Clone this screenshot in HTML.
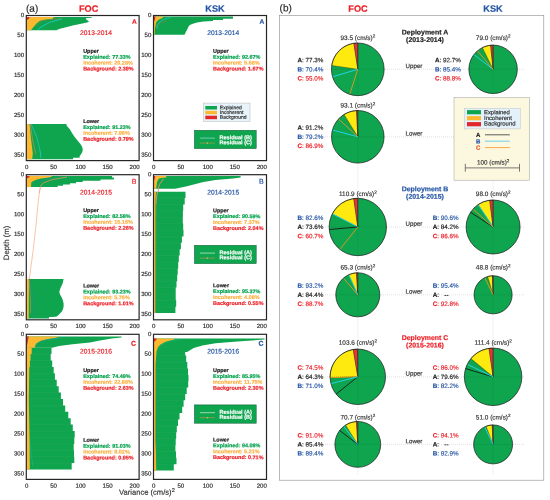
<!DOCTYPE html>
<html lang="en"><head><meta charset="utf-8"><title>Variance figure</title>
<style>
html,body{margin:0;padding:0;background:#fff;}
body{width:550px;height:500px;overflow:hidden;}
svg{display:block;font-family:"Liberation Sans",Arial,sans-serif;text-rendering:geometricPrecision;}
</style></head><body>
<svg width="550" height="500" viewBox="0 0 550 500">
<rect width="550" height="500" fill="#ffffff"/>
<polygon points="26.7,17.0 91.8,17.0 91.8,17.7 85.9,17.9 86.5,19.8 88.6,20.9 88.6,21.9 86.0,22.8 80.0,24.1 72.7,25.5 66.0,27.3 59.1,29.0 56.4,30.3 26.7,30.3" fill="#0fa44e" />
<polygon points="26.7,17.0 56.0,17.0 53.0,17.6 53.0,18.8 45.0,19.6 40.0,20.7 36.5,23.6 33.5,27.0 31.3,29.8 31.2,30.3 26.7,30.3" fill="#fcb82e" />
<polygon points="26.7,17.0 29.6,17.0 29.0,18.4 27.4,19.8 26.7,20.2 26.7,20.2" fill="#e3262a" />
<polyline points="61.8,18.9 49.5,22.4 43.0,25.8 37.8,29.5" fill="none" stroke="#22d3ea" stroke-width="0.7" />
<polyline points="62.0,18.3 54.0,19.2 47.0,19.9 42.0,20.8 38.5,23.2 35.5,26.5" fill="none" stroke="#e8703c" stroke-width="0.5" stroke-dasharray="1.2 0.6"/>
<polygon points="26.7,124.0 66.5,124.0 66.5,125.5 70.0,129.5 72.0,133.0 74.5,136.8 77.5,140.5 80.4,144.0 82.0,146.5 82.8,149.2 82.3,152.0 81.0,154.3 79.6,156.3 79.6,157.7 73.0,157.7 73.0,159.2 26.7,159.2" fill="#0fa44e" />
<polygon points="26.7,124.0 29.6,124.0 30.6,135.0 31.8,145.0 32.8,153.6 32.2,159.2 26.7,159.2" fill="#fcb82e" />
<polyline points="31.1,124.0 36.6,136.8 40.4,152.0 40.8,158.0" fill="none" stroke="#22d3ea" stroke-width="0.6" />
<polyline points="30.3,124.0 32.8,141.0 35.8,153.6" fill="none" stroke="#f08a4b" stroke-width="0.6" />
<polygon points="26.7,176.0 112.0,176.0 112.0,177.4 113.9,177.4 113.9,179.6 100.5,179.6 100.5,180.8 82.7,180.8 82.7,182.0 76.0,182.0 76.0,183.2 70.0,183.2 70.0,184.4 63.0,184.4 63.0,185.8 57.6,185.8 57.6,187.0 26.7,187.0" fill="#0fa44e" />
<polygon points="26.7,176.0 51.6,176.0 51.6,177.3 45.0,178.0 40.7,178.5 37.0,179.4 34.9,180.3 32.5,181.6 31.3,182.6 31.0,187.0 26.7,187.0" fill="#fcb82e" />
<polygon points="26.7,176.0 29.6,176.0 29.2,177.2 27.4,178.2 26.7,178.4 26.7,178.4" fill="#e3262a" />
<polyline points="52.0,177.3 45.0,179.0 38.0,181.6 35.0,184.2" fill="none" stroke="#1a8f8a" stroke-width="0.8" />
<polyline points="67.0,177.0 58.9,178.5 53.1,179.4 48.0,181.1 43.6,182.9 41.1,185.1 40.4,187.3 39.3,193.0" fill="none" stroke="#e8916c" stroke-width="0.8" />
<polyline points="39.3,193.0 38.4,200.0 36.0,225.0 33.2,250.0 31.2,265.0 29.4,278.0 29.9,285.0 30.6,300.0 30.6,313.0" fill="none" stroke="#f08a4b" stroke-width="0.5" />
<polygon points="26.7,279.0 63.6,279.0 63.0,282.0 62.2,284.5 60.5,288.0 59.3,291.8 60.0,294.5 61.5,296.9 62.8,300.0 63.6,303.5 63.6,306.5 63.0,309.3 61.8,311.5 60.0,313.6 58.5,315.0 56.4,316.8 49.0,317.1 49.0,318.4 26.7,318.4" fill="#0fa44e" />
<polygon points="26.7,279.0 28.9,279.0 28.7,318.4 26.7,318.4" fill="#fcb82e" />
<polyline points="30.2,279.0 32.0,292.0 33.8,305.0 35.3,318.0" fill="none" stroke="#2b8c9c" stroke-width="0.5" />
<polyline points="28.9,278.0 29.6,285.0 30.4,300.0 30.6,313.0" fill="none" stroke="#f08a4b" stroke-width="0.5" />
<polygon points="26.7,336.5 121.5,336.5 121.5,337.6 111.7,338.6 100.0,340.5 90.0,342.5 72.5,344.2 59.0,346.0 52.2,347.7 26.7,347.7" fill="#0fa44e" />
<polygon points="26.7,347.7 51.5,347.7 51.5,354.1 50.7,354.1 50.7,360.5 52.2,360.5 52.2,366.9 53.7,366.9 53.7,373.3 54.9,373.3 54.9,379.8 56.7,379.8 56.7,386.2 58.7,386.2 58.7,392.6 60.9,392.6 60.9,399.0 63.0,399.0 63.0,405.4 65.2,405.4 65.2,411.8 68.3,411.8 68.3,418.2 70.7,418.2 70.7,424.6 72.8,424.6 72.8,431.0 74.7,431.0 74.7,437.4 74.3,437.4 74.3,443.9 73.7,443.9 73.7,450.3 74.0,450.3 74.0,456.7 74.3,456.7 74.3,463.1 71.7,463.1 71.7,469.5 26.7,469.5" fill="#0fa44e" />
<line x1="28.7" x2="50.7" y1="354.11" y2="354.11" stroke="#36ae66" stroke-width="0.3"/>
<line x1="28.7" x2="50.7" y1="360.52" y2="360.52" stroke="#36ae66" stroke-width="0.3"/>
<line x1="28.7" x2="52.2" y1="366.93" y2="366.93" stroke="#36ae66" stroke-width="0.3"/>
<line x1="28.7" x2="53.7" y1="373.34" y2="373.34" stroke="#36ae66" stroke-width="0.3"/>
<line x1="28.7" x2="54.9" y1="379.75" y2="379.75" stroke="#36ae66" stroke-width="0.3"/>
<line x1="28.7" x2="56.7" y1="386.16" y2="386.16" stroke="#36ae66" stroke-width="0.3"/>
<line x1="28.7" x2="58.7" y1="392.57" y2="392.57" stroke="#36ae66" stroke-width="0.3"/>
<line x1="28.7" x2="60.9" y1="398.98" y2="398.98" stroke="#36ae66" stroke-width="0.3"/>
<line x1="28.7" x2="63.0" y1="405.39" y2="405.39" stroke="#36ae66" stroke-width="0.3"/>
<line x1="28.7" x2="65.2" y1="411.80" y2="411.80" stroke="#36ae66" stroke-width="0.3"/>
<line x1="28.7" x2="68.3" y1="418.21" y2="418.21" stroke="#36ae66" stroke-width="0.3"/>
<line x1="28.7" x2="70.7" y1="424.62" y2="424.62" stroke="#36ae66" stroke-width="0.3"/>
<line x1="28.7" x2="72.8" y1="431.03" y2="431.03" stroke="#36ae66" stroke-width="0.3"/>
<line x1="28.7" x2="74.3" y1="437.44" y2="437.44" stroke="#36ae66" stroke-width="0.3"/>
<line x1="28.7" x2="73.7" y1="443.85" y2="443.85" stroke="#36ae66" stroke-width="0.3"/>
<line x1="28.7" x2="73.7" y1="450.26" y2="450.26" stroke="#36ae66" stroke-width="0.3"/>
<line x1="28.7" x2="74.0" y1="456.67" y2="456.67" stroke="#36ae66" stroke-width="0.3"/>
<line x1="28.7" x2="71.7" y1="463.08" y2="463.08" stroke="#36ae66" stroke-width="0.3"/>
<polygon points="26.7,336.5 58.0,336.5 58.0,337.2 54.0,338.3 47.0,339.2 40.4,341.0 36.0,343.7 34.6,347.7 26.7,347.7" fill="#fcb82e" />
<polygon points="26.7,347.7 31.7,347.7 31.7,354.0 30.5,354.2 30.5,360.5 29.9,360.6 29.9,367.0 29.3,367.0 28.8,400.0 29.6,440.0 29.8,469.5 26.7,469.5" fill="#fcb82e" />
<polygon points="26.7,336.5 28.8,336.5 28.0,340.0 27.4,344.0 26.7,346.0 26.7,346.0" fill="#e3262a" />
<polyline points="62.0,337.6 54.0,338.6 47.0,339.6 40.8,341.3 36.6,343.9 35.2,347.5" fill="none" stroke="#1fa58f" stroke-width="0.8" />
<polyline points="29.7,440.5 31.0,452.0 32.7,466.0" fill="none" stroke="#22d3ea" stroke-width="0.4" stroke-dasharray="1.2 0.8"/>
<polygon points="153.9,16.6 233.0,16.6 233.0,18.7 223.0,18.7 223.0,19.9 213.0,19.9 213.0,21.1 203.4,21.4 197.0,22.5 193.6,23.6 190.4,24.8 189.0,25.8 184.5,34.7 153.9,34.7" fill="#0fa44e" />
<polygon points="153.9,16.6 163.0,16.6 163.0,17.8 160.5,18.8 158.3,20.0 156.8,21.6 156.0,23.0 155.0,28.7 154.7,34.7 153.9,34.7" fill="#fcb82e" />
<polygon points="153.9,16.6 155.6,16.6 154.6,20.4 153.9,21.4 153.9,21.4" fill="#e3262a" />
<polyline points="170.6,17.5 166.0,18.7 162.0,20.4 158.3,23.6 156.9,26.5 157.3,28.0 158.3,29.0" fill="none" stroke="#22d3ea" stroke-width="0.6" />
<polyline points="166.6,21.1 160.5,23.0 158.3,25.0 157.2,27.6" fill="none" stroke="#e8703c" stroke-width="0.6" stroke-dasharray="1 0.8"/>
<polygon points="153.9,176.0 240.6,176.0 240.6,177.6 233.0,178.5 215.5,180.0 203.4,182.0 194.7,184.2 186.0,186.4 175.0,188.7 153.9,188.7" fill="#0fa44e" />
<polygon points="153.9,191.7 185.5,191.7 185.5,198.1 184.7,198.1 184.7,204.5 183.2,204.5 183.2,210.9 182.9,210.9 182.9,217.3 182.8,217.3 182.8,223.6 183.2,223.6 183.2,230.0 183.5,230.0 183.5,236.4 181.9,236.4 181.9,242.8 180.9,242.8 180.9,249.2 179.7,249.2 179.7,255.6 178.8,255.6 178.8,262.0 178.2,262.0 178.2,268.4 177.7,268.4 177.7,274.8 177.2,274.8 177.2,281.2 176.5,281.2 176.5,287.5 175.7,287.5 175.7,293.9 175.7,293.9 175.7,300.3 176.2,300.3 176.2,306.7 175.4,306.7 175.4,313.1 153.9,313.1" fill="#0fa44e" />
<line x1="155.9" x2="184.7" y1="198.09" y2="198.09" stroke="#36ae66" stroke-width="0.3"/>
<line x1="155.9" x2="183.2" y1="204.48" y2="204.48" stroke="#36ae66" stroke-width="0.3"/>
<line x1="155.9" x2="182.9" y1="210.87" y2="210.87" stroke="#36ae66" stroke-width="0.3"/>
<line x1="155.9" x2="182.8" y1="217.26" y2="217.26" stroke="#36ae66" stroke-width="0.3"/>
<line x1="155.9" x2="182.8" y1="223.65" y2="223.65" stroke="#36ae66" stroke-width="0.3"/>
<line x1="155.9" x2="183.2" y1="230.04" y2="230.04" stroke="#36ae66" stroke-width="0.3"/>
<line x1="155.9" x2="181.9" y1="236.43" y2="236.43" stroke="#36ae66" stroke-width="0.3"/>
<line x1="155.9" x2="180.9" y1="242.82" y2="242.82" stroke="#36ae66" stroke-width="0.3"/>
<line x1="155.9" x2="179.7" y1="249.21" y2="249.21" stroke="#36ae66" stroke-width="0.3"/>
<line x1="155.9" x2="178.8" y1="255.60" y2="255.60" stroke="#36ae66" stroke-width="0.3"/>
<line x1="155.9" x2="178.2" y1="261.99" y2="261.99" stroke="#36ae66" stroke-width="0.3"/>
<line x1="155.9" x2="177.7" y1="268.38" y2="268.38" stroke="#36ae66" stroke-width="0.3"/>
<line x1="155.9" x2="177.2" y1="274.77" y2="274.77" stroke="#36ae66" stroke-width="0.3"/>
<line x1="155.9" x2="176.5" y1="281.16" y2="281.16" stroke="#36ae66" stroke-width="0.3"/>
<line x1="155.9" x2="175.7" y1="287.55" y2="287.55" stroke="#36ae66" stroke-width="0.3"/>
<line x1="155.9" x2="175.7" y1="293.94" y2="293.94" stroke="#36ae66" stroke-width="0.3"/>
<line x1="155.9" x2="175.7" y1="300.33" y2="300.33" stroke="#36ae66" stroke-width="0.3"/>
<line x1="155.9" x2="175.4" y1="306.72" y2="306.72" stroke="#36ae66" stroke-width="0.3"/>
<polygon points="153.9,176.0 166.3,176.0 166.3,177.4 161.0,178.0 159.0,178.6 157.2,181.5 156.1,188.7 153.9,188.7" fill="#fcb82e" />
<polygon points="153.9,191.7 156.0,191.7 155.4,200.0 155.2,313.1 153.9,313.1" fill="#fcb82e" />
<polygon points="153.9,176.0 155.4,176.0 154.5,179.5 153.9,181.0 153.9,181.0" fill="#e3262a" />
<polyline points="163.4,178.9 162.6,180.0 160.1,183.6 158.4,187.6 158.8,189.0 157.5,193.0 156.5,197.0 156.0,204.0" fill="none" stroke="#e8916c" stroke-width="0.9" />
<polyline points="156.2,204.0 155.6,313.0" fill="none" stroke="#f08a4b" stroke-width="0.4" stroke-dasharray="1 0.8"/>
<polygon points="153.9,338.5 264.6,338.5 264.6,339.6 248.3,340.7 237.3,341.5 215.5,343.3 202.4,345.5 193.7,348.1 187.1,352.0 153.9,352.0" fill="#0fa44e" />
<polygon points="153.9,349.2 185.2,349.2 185.2,355.6 186.2,355.6 186.2,362.0 187.3,362.0 187.3,368.4 188.0,368.4 188.0,374.8 188.5,374.8 188.5,381.1 188.2,381.1 188.2,387.5 186.7,387.5 186.7,393.9 185.2,393.9 185.2,400.3 183.6,400.3 183.6,406.7 182.2,406.7 182.2,413.1 179.5,413.1 179.5,419.5 178.0,419.5 178.0,425.9 176.8,425.9 176.8,432.3 176.2,432.3 176.2,438.7 175.7,438.7 175.7,445.0 175.4,445.0 175.4,451.4 176.0,451.4 176.0,457.8 176.5,457.8 176.5,464.2 173.8,464.2 173.8,470.6 153.9,470.6" fill="#0fa44e" />
<line x1="155.9" x2="185.2" y1="355.59" y2="355.59" stroke="#36ae66" stroke-width="0.3"/>
<line x1="155.9" x2="186.2" y1="361.98" y2="361.98" stroke="#36ae66" stroke-width="0.3"/>
<line x1="155.9" x2="187.3" y1="368.37" y2="368.37" stroke="#36ae66" stroke-width="0.3"/>
<line x1="155.9" x2="188.0" y1="374.76" y2="374.76" stroke="#36ae66" stroke-width="0.3"/>
<line x1="155.9" x2="188.2" y1="381.15" y2="381.15" stroke="#36ae66" stroke-width="0.3"/>
<line x1="155.9" x2="186.7" y1="387.54" y2="387.54" stroke="#36ae66" stroke-width="0.3"/>
<line x1="155.9" x2="185.2" y1="393.93" y2="393.93" stroke="#36ae66" stroke-width="0.3"/>
<line x1="155.9" x2="183.6" y1="400.32" y2="400.32" stroke="#36ae66" stroke-width="0.3"/>
<line x1="155.9" x2="182.2" y1="406.71" y2="406.71" stroke="#36ae66" stroke-width="0.3"/>
<line x1="155.9" x2="179.5" y1="413.10" y2="413.10" stroke="#36ae66" stroke-width="0.3"/>
<line x1="155.9" x2="178.0" y1="419.49" y2="419.49" stroke="#36ae66" stroke-width="0.3"/>
<line x1="155.9" x2="176.8" y1="425.88" y2="425.88" stroke="#36ae66" stroke-width="0.3"/>
<line x1="155.9" x2="176.2" y1="432.27" y2="432.27" stroke="#36ae66" stroke-width="0.3"/>
<line x1="155.9" x2="175.7" y1="438.66" y2="438.66" stroke="#36ae66" stroke-width="0.3"/>
<line x1="155.9" x2="175.4" y1="445.05" y2="445.05" stroke="#36ae66" stroke-width="0.3"/>
<line x1="155.9" x2="175.4" y1="451.44" y2="451.44" stroke="#36ae66" stroke-width="0.3"/>
<line x1="155.9" x2="176.0" y1="457.83" y2="457.83" stroke="#36ae66" stroke-width="0.3"/>
<line x1="155.9" x2="173.8" y1="464.22" y2="464.22" stroke="#36ae66" stroke-width="0.3"/>
<polygon points="153.9,338.5 174.3,338.5 174.3,339.6 170.0,340.4 165.5,341.8 160.5,344.4 157.9,347.3 156.5,351.6 156.1,356.7 155.5,365.0 155.3,440.0 156.0,455.0 156.2,470.6 153.9,470.6" fill="#fcb82e" />
<polygon points="153.9,338.5 156.8,338.5 156.2,340.0 154.8,341.2 153.9,342.0 153.9,342.0" fill="#e3262a" />
<polyline points="180.0,339.6 172.0,340.6 166.5,342.2 162.0,344.6 159.7,347.6 158.2,350.5" fill="none" stroke="#22d3ea" stroke-width="0.4" stroke-dasharray="1 0.8"/>
<polyline points="155.6,360.0 155.5,468.0" fill="none" stroke="#f08a4b" stroke-width="0.4" stroke-dasharray="1 0.8"/>
<rect x="26.3" y="15.5" width="112.8" height="145.1" fill="none" stroke="#262626" stroke-width="1.2"/>
<text x="24.1" y="17.1" font-size="6.1" fill="#303030" text-anchor="end" font-weight="normal"  stroke="#303030" stroke-width="0.18" transform="rotate(0.05 24.1 17.1)">0</text>
<text x="24.1" y="37.1" font-size="6.1" fill="#303030" text-anchor="end" font-weight="normal"  stroke="#303030" stroke-width="0.18" transform="rotate(0.05 24.1 37.1)">50</text>
<text x="24.1" y="57.0" font-size="6.1" fill="#303030" text-anchor="end" font-weight="normal"  stroke="#303030" stroke-width="0.18" transform="rotate(0.05 24.1 57.0)">100</text>
<text x="24.1" y="77.0" font-size="6.1" fill="#303030" text-anchor="end" font-weight="normal"  stroke="#303030" stroke-width="0.18" transform="rotate(0.05 24.1 77.0)">150</text>
<text x="24.1" y="96.9" font-size="6.1" fill="#303030" text-anchor="end" font-weight="normal"  stroke="#303030" stroke-width="0.18" transform="rotate(0.05 24.1 96.9)">200</text>
<text x="24.1" y="116.9" font-size="6.1" fill="#303030" text-anchor="end" font-weight="normal"  stroke="#303030" stroke-width="0.18" transform="rotate(0.05 24.1 116.9)">250</text>
<text x="24.1" y="136.8" font-size="6.1" fill="#303030" text-anchor="end" font-weight="normal"  stroke="#303030" stroke-width="0.18" transform="rotate(0.05 24.1 136.8)">300</text>
<text x="24.1" y="156.8" font-size="6.1" fill="#303030" text-anchor="end" font-weight="normal"  stroke="#303030" stroke-width="0.18" transform="rotate(0.05 24.1 156.8)">350</text>
<text x="26.6" y="168.9" font-size="6.1" fill="#303030" text-anchor="middle" font-weight="normal"  stroke="#303030" stroke-width="0.18" transform="rotate(0.05 26.6 168.9)">0</text>
<text x="53.6" y="168.9" font-size="6.1" fill="#303030" text-anchor="middle" font-weight="normal"  stroke="#303030" stroke-width="0.18" transform="rotate(0.05 53.6 168.9)">50</text>
<text x="80.6" y="168.9" font-size="6.1" fill="#303030" text-anchor="middle" font-weight="normal"  stroke="#303030" stroke-width="0.18" transform="rotate(0.05 80.6 168.9)">100</text>
<text x="107.6" y="168.9" font-size="6.1" fill="#303030" text-anchor="middle" font-weight="normal"  stroke="#303030" stroke-width="0.18" transform="rotate(0.05 107.6 168.9)">150</text>
<text x="134.6" y="168.9" font-size="6.1" fill="#303030" text-anchor="middle" font-weight="normal"  stroke="#303030" stroke-width="0.18" transform="rotate(0.05 134.6 168.9)">200</text>
<text x="134.5" y="23.8" font-size="6.6" fill="#ed1c24" text-anchor="middle" font-weight="bold"  stroke="#ed1c24" stroke-width="0.18" transform="rotate(0.05 134.5 23.8)">A</text>
<text x="96.0" y="34.9" font-size="6.7" fill="#ed1c24" text-anchor="middle" font-weight="normal"  stroke="#ed1c24" stroke-width="0.18" transform="rotate(0.05 96.0 34.9)">2013-2014</text>
<text x="83.2" y="52.8" font-size="5.45" fill="#1a1a1a" text-anchor="start" font-weight="bold"  stroke="#1a1a1a" stroke-width="0.18" transform="rotate(0.05 83.2 52.8)">Upper</text>
<text x="83.2" y="58.7" font-size="5.45" fill="#00a14b" text-anchor="start" font-weight="bold"  stroke="#00a14b" stroke-width="0.18" transform="rotate(0.05 83.2 58.7)">Explained: 77.33%</text>
<text x="83.2" y="64.6" font-size="5.45" fill="#fbb040" text-anchor="start" font-weight="bold"  stroke="#fbb040" stroke-width="0.18" transform="rotate(0.05 83.2 64.6)">Incoherent: 20.28%</text>
<text x="83.2" y="70.5" font-size="5.45" fill="#ed1c24" text-anchor="start" font-weight="bold"  stroke="#ed1c24" stroke-width="0.18" transform="rotate(0.05 83.2 70.5)">Background: 2.39%</text>
<text x="83.2" y="123.0" font-size="5.45" fill="#1a1a1a" text-anchor="start" font-weight="bold"  stroke="#1a1a1a" stroke-width="0.18" transform="rotate(0.05 83.2 123.0)">Lower</text>
<text x="83.2" y="128.9" font-size="5.45" fill="#00a14b" text-anchor="start" font-weight="bold"  stroke="#00a14b" stroke-width="0.18" transform="rotate(0.05 83.2 128.9)">Explained: 91.23%</text>
<text x="83.2" y="134.8" font-size="5.45" fill="#fbb040" text-anchor="start" font-weight="bold"  stroke="#fbb040" stroke-width="0.18" transform="rotate(0.05 83.2 134.8)">Incoherent: 7.98%</text>
<text x="83.2" y="140.7" font-size="5.45" fill="#ed1c24" text-anchor="start" font-weight="bold"  stroke="#ed1c24" stroke-width="0.18" transform="rotate(0.05 83.2 140.7)">Background: 0.79%</text>
<rect x="26.3" y="174.7" width="112.8" height="145.1" fill="none" stroke="#262626" stroke-width="1.2"/>
<text x="24.1" y="176.3" font-size="6.1" fill="#303030" text-anchor="end" font-weight="normal"  stroke="#303030" stroke-width="0.18" transform="rotate(0.05 24.1 176.3)">0</text>
<text x="24.1" y="196.2" font-size="6.1" fill="#303030" text-anchor="end" font-weight="normal"  stroke="#303030" stroke-width="0.18" transform="rotate(0.05 24.1 196.2)">50</text>
<text x="24.1" y="216.2" font-size="6.1" fill="#303030" text-anchor="end" font-weight="normal"  stroke="#303030" stroke-width="0.18" transform="rotate(0.05 24.1 216.2)">100</text>
<text x="24.1" y="236.1" font-size="6.1" fill="#303030" text-anchor="end" font-weight="normal"  stroke="#303030" stroke-width="0.18" transform="rotate(0.05 24.1 236.1)">150</text>
<text x="24.1" y="256.1" font-size="6.1" fill="#303030" text-anchor="end" font-weight="normal"  stroke="#303030" stroke-width="0.18" transform="rotate(0.05 24.1 256.1)">200</text>
<text x="24.1" y="276.0" font-size="6.1" fill="#303030" text-anchor="end" font-weight="normal"  stroke="#303030" stroke-width="0.18" transform="rotate(0.05 24.1 276.0)">250</text>
<text x="24.1" y="296.0" font-size="6.1" fill="#303030" text-anchor="end" font-weight="normal"  stroke="#303030" stroke-width="0.18" transform="rotate(0.05 24.1 296.0)">300</text>
<text x="24.1" y="315.9" font-size="6.1" fill="#303030" text-anchor="end" font-weight="normal"  stroke="#303030" stroke-width="0.18" transform="rotate(0.05 24.1 315.9)">350</text>
<text x="26.6" y="328.1" font-size="6.1" fill="#303030" text-anchor="middle" font-weight="normal"  stroke="#303030" stroke-width="0.18" transform="rotate(0.05 26.6 328.1)">0</text>
<text x="53.6" y="328.1" font-size="6.1" fill="#303030" text-anchor="middle" font-weight="normal"  stroke="#303030" stroke-width="0.18" transform="rotate(0.05 53.6 328.1)">50</text>
<text x="80.6" y="328.1" font-size="6.1" fill="#303030" text-anchor="middle" font-weight="normal"  stroke="#303030" stroke-width="0.18" transform="rotate(0.05 80.6 328.1)">100</text>
<text x="107.6" y="328.1" font-size="6.1" fill="#303030" text-anchor="middle" font-weight="normal"  stroke="#303030" stroke-width="0.18" transform="rotate(0.05 107.6 328.1)">150</text>
<text x="134.6" y="328.1" font-size="6.1" fill="#303030" text-anchor="middle" font-weight="normal"  stroke="#303030" stroke-width="0.18" transform="rotate(0.05 134.6 328.1)">200</text>
<text x="134.0" y="183.8" font-size="7" fill="#ed1c24" text-anchor="middle" font-weight="normal"  stroke="#ed1c24" stroke-width="0.18" transform="rotate(0.05 134.0 183.8)">B</text>
<text x="96.0" y="194.6" font-size="6.7" fill="#ed1c24" text-anchor="middle" font-weight="normal"  stroke="#ed1c24" stroke-width="0.18" transform="rotate(0.05 96.0 194.6)">2014-2015</text>
<text x="83.2" y="212.0" font-size="5.45" fill="#1a1a1a" text-anchor="start" font-weight="bold"  stroke="#1a1a1a" stroke-width="0.18" transform="rotate(0.05 83.2 212.0)">Upper</text>
<text x="83.2" y="217.9" font-size="5.45" fill="#00a14b" text-anchor="start" font-weight="bold"  stroke="#00a14b" stroke-width="0.18" transform="rotate(0.05 83.2 217.9)">Explained: 82.58%</text>
<text x="83.2" y="223.8" font-size="5.45" fill="#fbb040" text-anchor="start" font-weight="bold"  stroke="#fbb040" stroke-width="0.18" transform="rotate(0.05 83.2 223.8)">Incoherent: 15.16%</text>
<text x="83.2" y="229.7" font-size="5.45" fill="#ed1c24" text-anchor="start" font-weight="bold"  stroke="#ed1c24" stroke-width="0.18" transform="rotate(0.05 83.2 229.7)">Background: 2.26%</text>
<text x="83.2" y="287.5" font-size="5.45" fill="#1a1a1a" text-anchor="start" font-weight="bold"  stroke="#1a1a1a" stroke-width="0.18" transform="rotate(0.05 83.2 287.5)">Lower</text>
<text x="83.2" y="293.4" font-size="5.45" fill="#00a14b" text-anchor="start" font-weight="bold"  stroke="#00a14b" stroke-width="0.18" transform="rotate(0.05 83.2 293.4)">Explained: 93.23%</text>
<text x="83.2" y="299.3" font-size="5.45" fill="#fbb040" text-anchor="start" font-weight="bold"  stroke="#fbb040" stroke-width="0.18" transform="rotate(0.05 83.2 299.3)">Incoherent: 5.76%</text>
<text x="83.2" y="305.2" font-size="5.45" fill="#ed1c24" text-anchor="start" font-weight="bold"  stroke="#ed1c24" stroke-width="0.18" transform="rotate(0.05 83.2 305.2)">Background: 1.01%</text>
<rect x="26.3" y="334.3" width="112.8" height="145.1" fill="none" stroke="#262626" stroke-width="1.2"/>
<text x="24.1" y="335.9" font-size="6.1" fill="#303030" text-anchor="end" font-weight="normal"  stroke="#303030" stroke-width="0.18" transform="rotate(0.05 24.1 335.9)">0</text>
<text x="24.1" y="355.8" font-size="6.1" fill="#303030" text-anchor="end" font-weight="normal"  stroke="#303030" stroke-width="0.18" transform="rotate(0.05 24.1 355.8)">50</text>
<text x="24.1" y="375.8" font-size="6.1" fill="#303030" text-anchor="end" font-weight="normal"  stroke="#303030" stroke-width="0.18" transform="rotate(0.05 24.1 375.8)">100</text>
<text x="24.1" y="395.8" font-size="6.1" fill="#303030" text-anchor="end" font-weight="normal"  stroke="#303030" stroke-width="0.18" transform="rotate(0.05 24.1 395.8)">150</text>
<text x="24.1" y="415.7" font-size="6.1" fill="#303030" text-anchor="end" font-weight="normal"  stroke="#303030" stroke-width="0.18" transform="rotate(0.05 24.1 415.7)">200</text>
<text x="24.1" y="435.6" font-size="6.1" fill="#303030" text-anchor="end" font-weight="normal"  stroke="#303030" stroke-width="0.18" transform="rotate(0.05 24.1 435.6)">250</text>
<text x="24.1" y="455.6" font-size="6.1" fill="#303030" text-anchor="end" font-weight="normal"  stroke="#303030" stroke-width="0.18" transform="rotate(0.05 24.1 455.6)">300</text>
<text x="24.1" y="475.5" font-size="6.1" fill="#303030" text-anchor="end" font-weight="normal"  stroke="#303030" stroke-width="0.18" transform="rotate(0.05 24.1 475.5)">350</text>
<text x="26.6" y="487.7" font-size="6.1" fill="#303030" text-anchor="middle" font-weight="normal"  stroke="#303030" stroke-width="0.18" transform="rotate(0.05 26.6 487.7)">0</text>
<text x="53.6" y="487.7" font-size="6.1" fill="#303030" text-anchor="middle" font-weight="normal"  stroke="#303030" stroke-width="0.18" transform="rotate(0.05 53.6 487.7)">50</text>
<text x="80.6" y="487.7" font-size="6.1" fill="#303030" text-anchor="middle" font-weight="normal"  stroke="#303030" stroke-width="0.18" transform="rotate(0.05 80.6 487.7)">100</text>
<text x="107.6" y="487.7" font-size="6.1" fill="#303030" text-anchor="middle" font-weight="normal"  stroke="#303030" stroke-width="0.18" transform="rotate(0.05 107.6 487.7)">150</text>
<text x="134.6" y="487.7" font-size="6.1" fill="#303030" text-anchor="middle" font-weight="normal"  stroke="#303030" stroke-width="0.18" transform="rotate(0.05 134.6 487.7)">200</text>
<text x="133.6" y="345.7" font-size="7" fill="#ed1c24" text-anchor="middle" font-weight="bold"  stroke="#ed1c24" stroke-width="0.18" transform="rotate(0.05 133.6 345.7)">C</text>
<text x="96.0" y="353.4" font-size="6.7" fill="#ed1c24" text-anchor="middle" font-weight="normal"  stroke="#ed1c24" stroke-width="0.18" transform="rotate(0.05 96.0 353.4)">2015-2016</text>
<text x="83.2" y="372.0" font-size="5.45" fill="#1a1a1a" text-anchor="start" font-weight="bold"  stroke="#1a1a1a" stroke-width="0.18" transform="rotate(0.05 83.2 372.0)">Upper</text>
<text x="83.2" y="377.9" font-size="5.45" fill="#00a14b" text-anchor="start" font-weight="bold"  stroke="#00a14b" stroke-width="0.18" transform="rotate(0.05 83.2 377.9)">Explained: 74.49%</text>
<text x="83.2" y="383.8" font-size="5.45" fill="#fbb040" text-anchor="start" font-weight="bold"  stroke="#fbb040" stroke-width="0.18" transform="rotate(0.05 83.2 383.8)">Incoherent: 22.88%</text>
<text x="83.2" y="389.7" font-size="5.45" fill="#ed1c24" text-anchor="start" font-weight="bold"  stroke="#ed1c24" stroke-width="0.18" transform="rotate(0.05 83.2 389.7)">Background: 2.63%</text>
<text x="83.2" y="441.8" font-size="5.45" fill="#1a1a1a" text-anchor="start" font-weight="bold"  stroke="#1a1a1a" stroke-width="0.18" transform="rotate(0.05 83.2 441.8)">Lower</text>
<text x="83.2" y="447.7" font-size="5.45" fill="#00a14b" text-anchor="start" font-weight="bold"  stroke="#00a14b" stroke-width="0.18" transform="rotate(0.05 83.2 447.7)">Explained: 91.03%</text>
<text x="83.2" y="453.6" font-size="5.45" fill="#fbb040" text-anchor="start" font-weight="bold"  stroke="#fbb040" stroke-width="0.18" transform="rotate(0.05 83.2 453.6)">Incoherent: 8.02%</text>
<text x="83.2" y="459.5" font-size="5.45" fill="#ed1c24" text-anchor="start" font-weight="bold"  stroke="#ed1c24" stroke-width="0.18" transform="rotate(0.05 83.2 459.5)">Background: 0.95%</text>
<rect x="153.5" y="15.5" width="113.0" height="145.1" fill="none" stroke="#262626" stroke-width="1.2"/>
<text x="151.3" y="17.1" font-size="6.1" fill="#303030" text-anchor="end" font-weight="normal"  stroke="#303030" stroke-width="0.18" transform="rotate(0.05 151.3 17.1)">0</text>
<text x="151.3" y="37.1" font-size="6.1" fill="#303030" text-anchor="end" font-weight="normal"  stroke="#303030" stroke-width="0.18" transform="rotate(0.05 151.3 37.1)">50</text>
<text x="151.3" y="57.0" font-size="6.1" fill="#303030" text-anchor="end" font-weight="normal"  stroke="#303030" stroke-width="0.18" transform="rotate(0.05 151.3 57.0)">100</text>
<text x="151.3" y="77.0" font-size="6.1" fill="#303030" text-anchor="end" font-weight="normal"  stroke="#303030" stroke-width="0.18" transform="rotate(0.05 151.3 77.0)">150</text>
<text x="151.3" y="96.9" font-size="6.1" fill="#303030" text-anchor="end" font-weight="normal"  stroke="#303030" stroke-width="0.18" transform="rotate(0.05 151.3 96.9)">200</text>
<text x="151.3" y="116.9" font-size="6.1" fill="#303030" text-anchor="end" font-weight="normal"  stroke="#303030" stroke-width="0.18" transform="rotate(0.05 151.3 116.9)">250</text>
<text x="151.3" y="136.8" font-size="6.1" fill="#303030" text-anchor="end" font-weight="normal"  stroke="#303030" stroke-width="0.18" transform="rotate(0.05 151.3 136.8)">300</text>
<text x="151.3" y="156.8" font-size="6.1" fill="#303030" text-anchor="end" font-weight="normal"  stroke="#303030" stroke-width="0.18" transform="rotate(0.05 151.3 156.8)">350</text>
<text x="153.8" y="168.9" font-size="6.1" fill="#303030" text-anchor="middle" font-weight="normal"  stroke="#303030" stroke-width="0.18" transform="rotate(0.05 153.8 168.9)">0</text>
<text x="180.8" y="168.9" font-size="6.1" fill="#303030" text-anchor="middle" font-weight="normal"  stroke="#303030" stroke-width="0.18" transform="rotate(0.05 180.8 168.9)">50</text>
<text x="207.8" y="168.9" font-size="6.1" fill="#303030" text-anchor="middle" font-weight="normal"  stroke="#303030" stroke-width="0.18" transform="rotate(0.05 207.8 168.9)">100</text>
<text x="234.8" y="168.9" font-size="6.1" fill="#303030" text-anchor="middle" font-weight="normal"  stroke="#303030" stroke-width="0.18" transform="rotate(0.05 234.8 168.9)">150</text>
<text x="261.8" y="168.9" font-size="6.1" fill="#303030" text-anchor="middle" font-weight="normal"  stroke="#303030" stroke-width="0.18" transform="rotate(0.05 261.8 168.9)">200</text>
<text x="261.9" y="23.8" font-size="6.6" fill="#2455a4" text-anchor="middle" font-weight="bold"  stroke="#2455a4" stroke-width="0.18" transform="rotate(0.05 261.9 23.8)">A</text>
<text x="223.2" y="34.9" font-size="6.7" fill="#2455a4" text-anchor="middle" font-weight="normal"  stroke="#2455a4" stroke-width="0.18" transform="rotate(0.05 223.2 34.9)">2013-2014</text>
<text x="213.0" y="52.8" font-size="5.45" fill="#1a1a1a" text-anchor="start" font-weight="bold"  stroke="#1a1a1a" stroke-width="0.18" transform="rotate(0.05 213.0 52.8)">Upper</text>
<text x="213.0" y="58.7" font-size="5.45" fill="#00a14b" text-anchor="start" font-weight="bold"  stroke="#00a14b" stroke-width="0.18" transform="rotate(0.05 213.0 58.7)">Explained: 92.67%</text>
<text x="213.0" y="64.6" font-size="5.45" fill="#fbb040" text-anchor="start" font-weight="bold"  stroke="#fbb040" stroke-width="0.18" transform="rotate(0.05 213.0 64.6)">Incoherent: 5.66%</text>
<text x="213.0" y="70.5" font-size="5.45" fill="#ed1c24" text-anchor="start" font-weight="bold"  stroke="#ed1c24" stroke-width="0.18" transform="rotate(0.05 213.0 70.5)">Background: 1.67%</text>
<rect x="153.5" y="174.7" width="113.0" height="145.1" fill="none" stroke="#262626" stroke-width="1.2"/>
<text x="151.3" y="176.3" font-size="6.1" fill="#303030" text-anchor="end" font-weight="normal"  stroke="#303030" stroke-width="0.18" transform="rotate(0.05 151.3 176.3)">0</text>
<text x="151.3" y="196.2" font-size="6.1" fill="#303030" text-anchor="end" font-weight="normal"  stroke="#303030" stroke-width="0.18" transform="rotate(0.05 151.3 196.2)">50</text>
<text x="151.3" y="216.2" font-size="6.1" fill="#303030" text-anchor="end" font-weight="normal"  stroke="#303030" stroke-width="0.18" transform="rotate(0.05 151.3 216.2)">100</text>
<text x="151.3" y="236.1" font-size="6.1" fill="#303030" text-anchor="end" font-weight="normal"  stroke="#303030" stroke-width="0.18" transform="rotate(0.05 151.3 236.1)">150</text>
<text x="151.3" y="256.1" font-size="6.1" fill="#303030" text-anchor="end" font-weight="normal"  stroke="#303030" stroke-width="0.18" transform="rotate(0.05 151.3 256.1)">200</text>
<text x="151.3" y="276.0" font-size="6.1" fill="#303030" text-anchor="end" font-weight="normal"  stroke="#303030" stroke-width="0.18" transform="rotate(0.05 151.3 276.0)">250</text>
<text x="151.3" y="296.0" font-size="6.1" fill="#303030" text-anchor="end" font-weight="normal"  stroke="#303030" stroke-width="0.18" transform="rotate(0.05 151.3 296.0)">300</text>
<text x="151.3" y="315.9" font-size="6.1" fill="#303030" text-anchor="end" font-weight="normal"  stroke="#303030" stroke-width="0.18" transform="rotate(0.05 151.3 315.9)">350</text>
<text x="153.8" y="328.1" font-size="6.1" fill="#303030" text-anchor="middle" font-weight="normal"  stroke="#303030" stroke-width="0.18" transform="rotate(0.05 153.8 328.1)">0</text>
<text x="180.8" y="328.1" font-size="6.1" fill="#303030" text-anchor="middle" font-weight="normal"  stroke="#303030" stroke-width="0.18" transform="rotate(0.05 180.8 328.1)">50</text>
<text x="207.8" y="328.1" font-size="6.1" fill="#303030" text-anchor="middle" font-weight="normal"  stroke="#303030" stroke-width="0.18" transform="rotate(0.05 207.8 328.1)">100</text>
<text x="234.8" y="328.1" font-size="6.1" fill="#303030" text-anchor="middle" font-weight="normal"  stroke="#303030" stroke-width="0.18" transform="rotate(0.05 234.8 328.1)">150</text>
<text x="261.8" y="328.1" font-size="6.1" fill="#303030" text-anchor="middle" font-weight="normal"  stroke="#303030" stroke-width="0.18" transform="rotate(0.05 261.8 328.1)">200</text>
<text x="261.4" y="183.8" font-size="7" fill="#2455a4" text-anchor="middle" font-weight="normal"  stroke="#2455a4" stroke-width="0.18" transform="rotate(0.05 261.4 183.8)">B</text>
<text x="223.2" y="194.6" font-size="6.7" fill="#2455a4" text-anchor="middle" font-weight="normal"  stroke="#2455a4" stroke-width="0.18" transform="rotate(0.05 223.2 194.6)">2014-2015</text>
<text x="213.0" y="212.2" font-size="5.45" fill="#1a1a1a" text-anchor="start" font-weight="bold"  stroke="#1a1a1a" stroke-width="0.18" transform="rotate(0.05 213.0 212.2)">Upper</text>
<text x="213.0" y="218.1" font-size="5.45" fill="#00a14b" text-anchor="start" font-weight="bold"  stroke="#00a14b" stroke-width="0.18" transform="rotate(0.05 213.0 218.1)">Explained: 90.59%</text>
<text x="213.0" y="224.0" font-size="5.45" fill="#fbb040" text-anchor="start" font-weight="bold"  stroke="#fbb040" stroke-width="0.18" transform="rotate(0.05 213.0 224.0)">Incoherent: 7.37%</text>
<text x="213.0" y="229.9" font-size="5.45" fill="#ed1c24" text-anchor="start" font-weight="bold"  stroke="#ed1c24" stroke-width="0.18" transform="rotate(0.05 213.0 229.9)">Background: 2.04%</text>
<text x="213.0" y="287.2" font-size="5.45" fill="#1a1a1a" text-anchor="start" font-weight="bold"  stroke="#1a1a1a" stroke-width="0.18" transform="rotate(0.05 213.0 287.2)">Lower</text>
<text x="213.0" y="293.1" font-size="5.45" fill="#00a14b" text-anchor="start" font-weight="bold"  stroke="#00a14b" stroke-width="0.18" transform="rotate(0.05 213.0 293.1)">Explained: 95.37%</text>
<text x="213.0" y="299.0" font-size="5.45" fill="#fbb040" text-anchor="start" font-weight="bold"  stroke="#fbb040" stroke-width="0.18" transform="rotate(0.05 213.0 299.0)">Incoherent: 4.08%</text>
<text x="213.0" y="304.9" font-size="5.45" fill="#ed1c24" text-anchor="start" font-weight="bold"  stroke="#ed1c24" stroke-width="0.18" transform="rotate(0.05 213.0 304.9)">Background: 0.55%</text>
<rect x="153.5" y="334.3" width="113.0" height="145.1" fill="none" stroke="#262626" stroke-width="1.2"/>
<text x="151.3" y="335.9" font-size="6.1" fill="#303030" text-anchor="end" font-weight="normal"  stroke="#303030" stroke-width="0.18" transform="rotate(0.05 151.3 335.9)">0</text>
<text x="151.3" y="355.8" font-size="6.1" fill="#303030" text-anchor="end" font-weight="normal"  stroke="#303030" stroke-width="0.18" transform="rotate(0.05 151.3 355.8)">50</text>
<text x="151.3" y="375.8" font-size="6.1" fill="#303030" text-anchor="end" font-weight="normal"  stroke="#303030" stroke-width="0.18" transform="rotate(0.05 151.3 375.8)">100</text>
<text x="151.3" y="395.8" font-size="6.1" fill="#303030" text-anchor="end" font-weight="normal"  stroke="#303030" stroke-width="0.18" transform="rotate(0.05 151.3 395.8)">150</text>
<text x="151.3" y="415.7" font-size="6.1" fill="#303030" text-anchor="end" font-weight="normal"  stroke="#303030" stroke-width="0.18" transform="rotate(0.05 151.3 415.7)">200</text>
<text x="151.3" y="435.6" font-size="6.1" fill="#303030" text-anchor="end" font-weight="normal"  stroke="#303030" stroke-width="0.18" transform="rotate(0.05 151.3 435.6)">250</text>
<text x="151.3" y="455.6" font-size="6.1" fill="#303030" text-anchor="end" font-weight="normal"  stroke="#303030" stroke-width="0.18" transform="rotate(0.05 151.3 455.6)">300</text>
<text x="151.3" y="475.5" font-size="6.1" fill="#303030" text-anchor="end" font-weight="normal"  stroke="#303030" stroke-width="0.18" transform="rotate(0.05 151.3 475.5)">350</text>
<text x="153.8" y="487.7" font-size="6.1" fill="#303030" text-anchor="middle" font-weight="normal"  stroke="#303030" stroke-width="0.18" transform="rotate(0.05 153.8 487.7)">0</text>
<text x="180.8" y="487.7" font-size="6.1" fill="#303030" text-anchor="middle" font-weight="normal"  stroke="#303030" stroke-width="0.18" transform="rotate(0.05 180.8 487.7)">50</text>
<text x="207.8" y="487.7" font-size="6.1" fill="#303030" text-anchor="middle" font-weight="normal"  stroke="#303030" stroke-width="0.18" transform="rotate(0.05 207.8 487.7)">100</text>
<text x="234.8" y="487.7" font-size="6.1" fill="#303030" text-anchor="middle" font-weight="normal"  stroke="#303030" stroke-width="0.18" transform="rotate(0.05 234.8 487.7)">150</text>
<text x="261.8" y="487.7" font-size="6.1" fill="#303030" text-anchor="middle" font-weight="normal"  stroke="#303030" stroke-width="0.18" transform="rotate(0.05 261.8 487.7)">200</text>
<text x="261.0" y="345.7" font-size="7" fill="#2455a4" text-anchor="middle" font-weight="bold"  stroke="#2455a4" stroke-width="0.18" transform="rotate(0.05 261.0 345.7)">C</text>
<text x="223.2" y="353.4" font-size="6.7" fill="#2455a4" text-anchor="middle" font-weight="normal"  stroke="#2455a4" stroke-width="0.18" transform="rotate(0.05 223.2 353.4)">2015-2016</text>
<text x="213.0" y="372.0" font-size="5.45" fill="#1a1a1a" text-anchor="start" font-weight="bold"  stroke="#1a1a1a" stroke-width="0.18" transform="rotate(0.05 213.0 372.0)">Upper</text>
<text x="213.0" y="377.9" font-size="5.45" fill="#00a14b" text-anchor="start" font-weight="bold"  stroke="#00a14b" stroke-width="0.18" transform="rotate(0.05 213.0 377.9)">Explained: 85.95%</text>
<text x="213.0" y="383.8" font-size="5.45" fill="#fbb040" text-anchor="start" font-weight="bold"  stroke="#fbb040" stroke-width="0.18" transform="rotate(0.05 213.0 383.8)">Incoherent: 11.75%</text>
<text x="213.0" y="389.7" font-size="5.45" fill="#ed1c24" text-anchor="start" font-weight="bold"  stroke="#ed1c24" stroke-width="0.18" transform="rotate(0.05 213.0 389.7)">Background: 2.30%</text>
<text x="213.0" y="441.4" font-size="5.45" fill="#1a1a1a" text-anchor="start" font-weight="bold"  stroke="#1a1a1a" stroke-width="0.18" transform="rotate(0.05 213.0 441.4)">Lower</text>
<text x="213.0" y="447.3" font-size="5.45" fill="#00a14b" text-anchor="start" font-weight="bold"  stroke="#00a14b" stroke-width="0.18" transform="rotate(0.05 213.0 447.3)">Explained: 94.08%</text>
<text x="213.0" y="453.2" font-size="5.45" fill="#fbb040" text-anchor="start" font-weight="bold"  stroke="#fbb040" stroke-width="0.18" transform="rotate(0.05 213.0 453.2)">Incoherent: 5.21%</text>
<text x="213.0" y="459.1" font-size="5.45" fill="#ed1c24" text-anchor="start" font-weight="bold"  stroke="#ed1c24" stroke-width="0.18" transform="rotate(0.05 213.0 459.1)">Background: 0.71%</text>
<text x="26.0" y="11.8" font-size="10" fill="#2a2a2a" text-anchor="start" font-weight="normal"  stroke="#2a2a2a" stroke-width="0.18" transform="rotate(0.05 26.0 11.8)">(a)</text>
<text x="88.6" y="11.8" font-size="9.2" fill="#ed1c24" text-anchor="middle" font-weight="bold"  stroke="#ed1c24" stroke-width="0.18" transform="rotate(0.05 88.6 11.8)">FOC</text>
<text x="215.0" y="11.8" font-size="9.2" fill="#2455a4" text-anchor="middle" font-weight="bold"  stroke="#2455a4" stroke-width="0.18" transform="rotate(0.05 215.0 11.8)">KSK</text>
<text transform="translate(9.1,242.9) rotate(-90)" font-size="7.8" fill="#303030" stroke="#303030" stroke-width="0.15" text-anchor="middle">Depth (m)</text>
<text x="146.9" y="494.7" transform="rotate(0.05 146.9 494.7)" font-size="7.6" fill="#303030" stroke="#303030" stroke-width="0.15" text-anchor="middle">Variance (cm/s)<tspan dy="-2.7" font-size="5.6">2</tspan></text>
<rect x="203.4" y="103.1" width="46.6" height="18.2" fill="#e6f3fb" stroke="#b5b5b5" stroke-width="0.5"/>
<rect x="205.3" y="106.0" width="11.7" height="3.5" fill="#0fa44e"/>
<text x="219.8" y="109.3" font-size="5" fill="#303030" text-anchor="start" font-weight="normal"  stroke="#303030" stroke-width="0.18" transform="rotate(0.05 219.8 109.3)">Explained</text>
<rect x="205.3" y="110.8" width="11.7" height="3.5" fill="#fcb82e"/>
<text x="219.8" y="114.0" font-size="5" fill="#303030" text-anchor="start" font-weight="normal"  stroke="#303030" stroke-width="0.18" transform="rotate(0.05 219.8 114.0)">Incoherent</text>
<rect x="205.3" y="115.7" width="11.7" height="3.5" fill="#e3262a"/>
<text x="219.8" y="118.8" font-size="5" fill="#303030" text-anchor="start" font-weight="normal"  stroke="#303030" stroke-width="0.18" transform="rotate(0.05 219.8 118.8)">Background</text>
<rect x="194.4" y="130.3" width="61.8" height="18.3" fill="#0fa44e" stroke="#0c5a2e" stroke-width="0.5"/>
<line x1="199.9" x2="215" y1="138.1" y2="138.1" stroke="#9adfe9" stroke-width="0.7"/>
<line x1="199.9" x2="215" y1="143.1" y2="143.1" stroke="#e8963c" stroke-width="0.7" stroke-dasharray="1.6 0.5"/>
<circle cx="207.4" cy="143.1" r="0.5" fill="#f4e9c8"/>
<text x="219.5" y="139.2" font-size="5.55" fill="#ffffff" text-anchor="start" font-weight="bold"  stroke="#ffffff" stroke-width="0.18" transform="rotate(0.05 219.5 139.2)">Residual (B)</text>
<text x="219.5" y="144.2" font-size="5.55" fill="#ffffff" text-anchor="start" font-weight="bold"  stroke="#ffffff" stroke-width="0.18" transform="rotate(0.05 219.5 144.2)">Residual (C)</text>
<rect x="194.4" y="245.3" width="61.8" height="18.3" fill="#0fa44e" stroke="#0c5a2e" stroke-width="0.5"/>
<line x1="199.9" x2="215" y1="253.1" y2="253.1" stroke="#d4f0e0" stroke-width="0.7"/>
<line x1="199.9" x2="215" y1="258.1" y2="258.1" stroke="#e8963c" stroke-width="0.7" stroke-dasharray="1.6 0.5"/>
<circle cx="207.4" cy="258.1" r="0.5" fill="#f4e9c8"/>
<text x="219.5" y="254.2" font-size="5.55" fill="#ffffff" text-anchor="start" font-weight="bold"  stroke="#ffffff" stroke-width="0.18" transform="rotate(0.05 219.5 254.2)">Residual (A)</text>
<text x="219.5" y="259.2" font-size="5.55" fill="#ffffff" text-anchor="start" font-weight="bold"  stroke="#ffffff" stroke-width="0.18" transform="rotate(0.05 219.5 259.2)">Residual (C)</text>
<rect x="194.4" y="404.9" width="61.8" height="18.3" fill="#0fa44e" stroke="#0c5a2e" stroke-width="0.5"/>
<line x1="199.9" x2="215" y1="412.7" y2="412.7" stroke="#d4f0e0" stroke-width="0.7"/>
<line x1="199.9" x2="215" y1="417.7" y2="417.7" stroke="#e8963c" stroke-width="0.7" stroke-dasharray="1.6 0.5"/>
<circle cx="207.4" cy="417.7" r="0.5" fill="#f4e9c8"/>
<text x="219.5" y="413.8" font-size="5.55" fill="#ffffff" text-anchor="start" font-weight="bold"  stroke="#ffffff" stroke-width="0.18" transform="rotate(0.05 219.5 413.8)">Residual (A)</text>
<text x="219.5" y="418.8" font-size="5.55" fill="#ffffff" text-anchor="start" font-weight="bold"  stroke="#ffffff" stroke-width="0.18" transform="rotate(0.05 219.5 418.8)">Residual (B)</text>
<rect x="279.3" y="15.5" width="264.5" height="464.7" fill="none" stroke="#8a8a8a" stroke-width="0.6"/>
<text x="279.6" y="11.3" font-size="10" fill="#2a2a2a" text-anchor="start" font-weight="normal"  stroke="#2a2a2a" stroke-width="0.18" transform="rotate(0.05 279.6 11.3)">(b)</text>
<text x="358.0" y="11.8" font-size="9.2" fill="#ed1c24" text-anchor="middle" font-weight="bold"  stroke="#ed1c24" stroke-width="0.18" transform="rotate(0.05 358.0 11.8)">FOC</text>
<text x="493.0" y="11.8" font-size="9.2" fill="#2455a4" text-anchor="middle" font-weight="bold"  stroke="#2455a4" stroke-width="0.18" transform="rotate(0.05 493.0 11.8)">KSK</text>
<line x1="357.8" x2="357.8" y1="69.3" y2="474" stroke="#b8b8b8" stroke-width="0.5" stroke-dasharray="0.8 1.2"/>
<line x1="493.1" x2="493.1" y1="69.3" y2="97.6" stroke="#b8b8b8" stroke-width="0.5" stroke-dasharray="0.8 1.2"/>
<line x1="493.1" x2="493.1" y1="179.5" y2="474" stroke="#b8b8b8" stroke-width="0.5" stroke-dasharray="0.8 1.2"/>
<line x1="297" x2="524" y1="69.3" y2="69.3" stroke="#b8b8b8" stroke-width="0.5" stroke-dasharray="0.8 1.2"/>
<line x1="297" x2="454" y1="136.8" y2="136.8" stroke="#b8b8b8" stroke-width="0.5" stroke-dasharray="0.8 1.2"/>
<line x1="297" x2="524" y1="227.0" y2="227.0" stroke="#b8b8b8" stroke-width="0.5" stroke-dasharray="0.8 1.2"/>
<line x1="297" x2="524" y1="294.8" y2="294.8" stroke="#b8b8b8" stroke-width="0.5" stroke-dasharray="0.8 1.2"/>
<line x1="297" x2="524" y1="376.8" y2="376.8" stroke="#b8b8b8" stroke-width="0.5" stroke-dasharray="0.8 1.2"/>
<line x1="297" x2="524" y1="444.4" y2="444.4" stroke="#b8b8b8" stroke-width="0.5" stroke-dasharray="0.8 1.2"/>
<circle cx="357.80" cy="69.30" r="26.35" fill="#0fa44e"/>
<path d="M357.80,69.30 L331.73,65.46 A26.35,26.35 0 0 1 353.86,43.25 Z" fill="#ffea10" stroke="#222" stroke-width="0.35" stroke-linejoin="round"/>
<path d="M357.80,69.30 L353.86,43.25 A26.35,26.35 0 0 1 357.80,42.95 Z" fill="#ea3338" stroke="#222" stroke-width="0.35" stroke-linejoin="round"/>
<line x1="357.8" x2="357.8" y1="69.3" y2="95.6" stroke="#087a38" stroke-width="0.4" stroke-dasharray="0.8 1.2"/>
<line x1="331.5" x2="384.1" y1="69.3" y2="69.3" stroke="#087a38" stroke-width="0.4" stroke-dasharray="0.8 1.2"/>
<line x1="357.80" x2="357.80" y1="69.30" y2="42.95" stroke="#222" stroke-width="0.5"/>
<line x1="357.80" y1="69.30" x2="332.54" y2="76.81" stroke="#22d3ea" stroke-width="1.0"/>
<line x1="357.80" y1="69.30" x2="349.66" y2="94.36" stroke="#e8981e" stroke-width="0.9"/>
<circle cx="357.80" cy="69.30" r="26.35" fill="none" stroke="#1a1a1a" stroke-width="0.7"/>
<text x="357.9" y="39.9" transform="rotate(0.05 357.9 39.9)" font-size="6.45" fill="#303030" stroke="#303030" stroke-width="0.15" text-anchor="middle">93.5 (cm/s)<tspan dy="-2.3" font-size="4.6">2</tspan></text>
<text x="297.4" y="62.3" transform="rotate(0.05 297.4 62.3)" font-size="6.3" fill="#1a1a1a" stroke="#1a1a1a" stroke-width="0.15"><tspan font-weight="bold">A</tspan>: 77.3%</text>
<text x="297.4" y="71.4" transform="rotate(0.05 297.4 71.4)" font-size="6.3" fill="#2455a4" stroke="#2455a4" stroke-width="0.15"><tspan font-weight="bold">B</tspan>: 70.4%</text>
<text x="297.4" y="80.5" transform="rotate(0.05 297.4 80.5)" font-size="6.3" fill="#ed1c24" stroke="#ed1c24" stroke-width="0.15"><tspan font-weight="bold">C</tspan>: 55.0%</text>
<circle cx="493.10" cy="69.30" r="24.22" fill="#0fa44e"/>
<path d="M493.10,69.30 L482.34,47.60 A24.22,24.22 0 0 1 490.56,45.21 Z" fill="#ffea10" stroke="#222" stroke-width="0.35" stroke-linejoin="round"/>
<path d="M493.10,69.30 L490.56,45.21 A24.22,24.22 0 0 1 493.10,45.08 Z" fill="#ea3338" stroke="#222" stroke-width="0.35" stroke-linejoin="round"/>
<line x1="493.1" x2="493.1" y1="69.3" y2="93.5" stroke="#087a38" stroke-width="0.4" stroke-dasharray="0.8 1.2"/>
<line x1="468.9" x2="517.3" y1="69.3" y2="69.3" stroke="#087a38" stroke-width="0.4" stroke-dasharray="0.8 1.2"/>
<line x1="493.10" x2="493.10" y1="69.30" y2="45.08" stroke="#222" stroke-width="0.5"/>
<line x1="493.10" y1="69.30" x2="473.87" y2="54.58" stroke="#22d3ea" stroke-width="1.0"/>
<line x1="493.10" y1="69.30" x2="477.43" y2="50.83" stroke="#e8981e" stroke-width="0.9"/>
<circle cx="493.10" cy="69.30" r="24.22" fill="none" stroke="#1a1a1a" stroke-width="0.7"/>
<text x="493.2" y="39.9" transform="rotate(0.05 493.2 39.9)" font-size="6.45" fill="#303030" stroke="#303030" stroke-width="0.15" text-anchor="middle">79.0 (cm/s)<tspan dy="-2.3" font-size="4.6">2</tspan></text>
<text x="435.0" y="62.3" transform="rotate(0.05 435.0 62.3)" font-size="6.3" fill="#1a1a1a" stroke="#1a1a1a" stroke-width="0.15"><tspan font-weight="bold">A</tspan>: 92.7%</text>
<text x="435.0" y="71.4" transform="rotate(0.05 435.0 71.4)" font-size="6.3" fill="#2455a4" stroke="#2455a4" stroke-width="0.15"><tspan font-weight="bold">B</tspan>: 85.4%</text>
<text x="435.0" y="80.5" transform="rotate(0.05 435.0 80.5)" font-size="6.3" fill="#ed1c24" stroke="#ed1c24" stroke-width="0.15"><tspan font-weight="bold">C</tspan>: 88.8%</text>
<circle cx="357.80" cy="136.80" r="26.29" fill="#0fa44e"/>
<path d="M357.80,136.80 L344.03,114.40 A26.29,26.29 0 0 1 356.50,110.54 Z" fill="#ffea10" stroke="#222" stroke-width="0.35" stroke-linejoin="round"/>
<path d="M357.80,136.80 L356.50,110.54 A26.29,26.29 0 0 1 357.80,110.51 Z" fill="#ea3338" stroke="#222" stroke-width="0.35" stroke-linejoin="round"/>
<line x1="357.8" x2="357.8" y1="136.8" y2="163.1" stroke="#087a38" stroke-width="0.4" stroke-dasharray="0.8 1.2"/>
<line x1="331.5" x2="384.1" y1="136.8" y2="136.8" stroke="#087a38" stroke-width="0.4" stroke-dasharray="0.8 1.2"/>
<line x1="357.80" x2="357.80" y1="136.80" y2="110.51" stroke="#222" stroke-width="0.5"/>
<line x1="357.80" y1="136.80" x2="332.42" y2="129.94" stroke="#22d3ea" stroke-width="1.0"/>
<line x1="357.80" y1="136.80" x2="338.52" y2="118.92" stroke="#e8981e" stroke-width="0.9"/>
<circle cx="357.80" cy="136.80" r="26.29" fill="none" stroke="#1a1a1a" stroke-width="0.7"/>
<text x="357.9" y="107.6" transform="rotate(0.05 357.9 107.6)" font-size="6.45" fill="#303030" stroke="#303030" stroke-width="0.15" text-anchor="middle">93.1 (cm/s)<tspan dy="-2.3" font-size="4.6">2</tspan></text>
<text x="297.4" y="129.8" transform="rotate(0.05 297.4 129.8)" font-size="6.3" fill="#1a1a1a" stroke="#1a1a1a" stroke-width="0.15"><tspan font-weight="bold">A</tspan>: 91.2%</text>
<text x="297.4" y="138.9" transform="rotate(0.05 297.4 138.9)" font-size="6.3" fill="#2455a4" stroke="#2455a4" stroke-width="0.15"><tspan font-weight="bold">B</tspan>: 79.2%</text>
<text x="297.4" y="148.0" transform="rotate(0.05 297.4 148.0)" font-size="6.3" fill="#ed1c24" stroke="#ed1c24" stroke-width="0.15"><tspan font-weight="bold">C</tspan>: 86.9%</text>
<circle cx="357.80" cy="227.00" r="28.70" fill="#0fa44e"/>
<path d="M357.80,227.00 L332.30,213.84 A28.70,28.70 0 0 1 353.74,198.59 Z" fill="#ffea10" stroke="#222" stroke-width="0.35" stroke-linejoin="round"/>
<path d="M357.80,227.00 L353.74,198.59 A28.70,28.70 0 0 1 357.80,198.30 Z" fill="#ea3338" stroke="#222" stroke-width="0.35" stroke-linejoin="round"/>
<line x1="357.8" x2="357.8" y1="227.0" y2="255.7" stroke="#087a38" stroke-width="0.4" stroke-dasharray="0.8 1.2"/>
<line x1="329.1" x2="386.5" y1="227.0" y2="227.0" stroke="#087a38" stroke-width="0.4" stroke-dasharray="0.8 1.2"/>
<line x1="357.80" x2="357.80" y1="227.00" y2="198.30" stroke="#222" stroke-width="0.5"/>
<line x1="357.80" y1="227.00" x2="332.30" y2="213.84" stroke="#22d3ea" stroke-width="1.0"/>
<line x1="357.80" y1="227.00" x2="329.21" y2="229.52" stroke="#1a1a1a" stroke-width="0.9"/>
<line x1="357.80" y1="227.00" x2="339.93" y2="249.45" stroke="#e8981e" stroke-width="0.9"/>
<circle cx="357.80" cy="227.00" r="28.70" fill="none" stroke="#1a1a1a" stroke-width="0.7"/>
<text x="357.9" y="196.0" transform="rotate(0.05 357.9 196.0)" font-size="6.45" fill="#303030" stroke="#303030" stroke-width="0.15" text-anchor="middle">110.9 (cm/s)<tspan dy="-2.3" font-size="4.6">2</tspan></text>
<text x="297.4" y="220.0" transform="rotate(0.05 297.4 220.0)" font-size="6.3" fill="#2455a4" stroke="#2455a4" stroke-width="0.15"><tspan font-weight="bold">B</tspan>: 82.6%</text>
<text x="297.4" y="229.1" transform="rotate(0.05 297.4 229.1)" font-size="6.3" fill="#1a1a1a" stroke="#1a1a1a" stroke-width="0.15"><tspan font-weight="bold">A</tspan>: 73.6%</text>
<text x="297.4" y="238.2" transform="rotate(0.05 297.4 238.2)" font-size="6.3" fill="#ed1c24" stroke="#ed1c24" stroke-width="0.15"><tspan font-weight="bold">C</tspan>: 60.7%</text>
<circle cx="493.10" cy="227.00" r="26.98" fill="#0fa44e"/>
<path d="M493.10,227.00 L478.06,204.60 A26.98,26.98 0 0 1 489.65,200.25 Z" fill="#ffea10" stroke="#222" stroke-width="0.35" stroke-linejoin="round"/>
<path d="M493.10,227.00 L489.65,200.25 A26.98,26.98 0 0 1 493.10,200.02 Z" fill="#ea3338" stroke="#222" stroke-width="0.35" stroke-linejoin="round"/>
<line x1="493.1" x2="493.1" y1="227.0" y2="254.0" stroke="#087a38" stroke-width="0.4" stroke-dasharray="0.8 1.2"/>
<line x1="466.1" x2="520.1" y1="227.0" y2="227.0" stroke="#087a38" stroke-width="0.4" stroke-dasharray="0.8 1.2"/>
<line x1="493.10" x2="493.10" y1="227.00" y2="200.02" stroke="#222" stroke-width="0.5"/>
<line x1="493.10" y1="227.00" x2="478.06" y2="204.60" stroke="#22d3ea" stroke-width="1.0"/>
<line x1="493.10" y1="227.00" x2="470.51" y2="212.26" stroke="#1a1a1a" stroke-width="0.9"/>
<line x1="493.10" y1="227.00" x2="472.98" y2="209.03" stroke="#e8981e" stroke-width="0.9"/>
<circle cx="493.10" cy="227.00" r="26.98" fill="none" stroke="#1a1a1a" stroke-width="0.7"/>
<text x="493.2" y="196.0" transform="rotate(0.05 493.2 196.0)" font-size="6.45" fill="#303030" stroke="#303030" stroke-width="0.15" text-anchor="middle">98.0 (cm/s)<tspan dy="-2.3" font-size="4.6">2</tspan></text>
<text x="432.8" y="220.0" transform="rotate(0.05 432.8 220.0)" font-size="6.3" fill="#2455a4" stroke="#2455a4" stroke-width="0.15"><tspan font-weight="bold">B</tspan>: 90.6%</text>
<text x="432.8" y="229.1" transform="rotate(0.05 432.8 229.1)" font-size="6.3" fill="#1a1a1a" stroke="#1a1a1a" stroke-width="0.15"><tspan font-weight="bold">A</tspan>: 84.2%</text>
<text x="432.8" y="238.2" transform="rotate(0.05 432.8 238.2)" font-size="6.3" fill="#ed1c24" stroke="#ed1c24" stroke-width="0.15"><tspan font-weight="bold">C</tspan>: 86.6%</text>
<circle cx="357.80" cy="294.80" r="22.02" fill="#0fa44e"/>
<path d="M357.80,294.80 L348.71,274.74 A22.02,22.02 0 0 1 356.40,272.82 Z" fill="#ffea10" stroke="#222" stroke-width="0.35" stroke-linejoin="round"/>
<path d="M357.80,294.80 L356.40,272.82 A22.02,22.02 0 0 1 357.80,272.78 Z" fill="#ea3338" stroke="#222" stroke-width="0.35" stroke-linejoin="round"/>
<line x1="357.8" x2="357.8" y1="294.8" y2="316.8" stroke="#087a38" stroke-width="0.4" stroke-dasharray="0.8 1.2"/>
<line x1="335.8" x2="379.8" y1="294.8" y2="294.8" stroke="#087a38" stroke-width="0.4" stroke-dasharray="0.8 1.2"/>
<line x1="357.80" x2="357.80" y1="294.80" y2="272.78" stroke="#222" stroke-width="0.5"/>
<line x1="357.80" y1="294.80" x2="348.71" y2="274.74" stroke="#22d3ea" stroke-width="1.0"/>
<line x1="357.80" y1="294.80" x2="343.45" y2="278.10" stroke="#e8981e" stroke-width="0.9"/>
<circle cx="357.80" cy="294.80" r="22.02" fill="none" stroke="#1a1a1a" stroke-width="0.7"/>
<text x="357.9" y="269.6" transform="rotate(0.05 357.9 269.6)" font-size="6.45" fill="#303030" stroke="#303030" stroke-width="0.15" text-anchor="middle">65.3 (cm/s)<tspan dy="-2.3" font-size="4.6">2</tspan></text>
<text x="297.4" y="287.8" transform="rotate(0.05 297.4 287.8)" font-size="6.3" fill="#2455a4" stroke="#2455a4" stroke-width="0.15"><tspan font-weight="bold">B</tspan>: 93.2%</text>
<text x="297.4" y="296.9" transform="rotate(0.05 297.4 296.9)" font-size="6.3" fill="#1a1a1a" stroke="#1a1a1a" stroke-width="0.15"><tspan font-weight="bold">A</tspan>: 84.4%</text>
<text x="297.4" y="306.0" transform="rotate(0.05 297.4 306.0)" font-size="6.3" fill="#ed1c24" stroke="#ed1c24" stroke-width="0.15"><tspan font-weight="bold">C</tspan>: 88.7%</text>
<circle cx="493.10" cy="294.80" r="19.04" fill="#0fa44e"/>
<path d="M493.10,294.80 L487.64,276.56 A19.04,19.04 0 0 1 492.44,275.78 Z" fill="#ffea10" stroke="#222" stroke-width="0.35" stroke-linejoin="round"/>
<path d="M493.10,294.80 L492.44,275.78 A19.04,19.04 0 0 1 493.10,275.76 Z" fill="#ea3338" stroke="#222" stroke-width="0.35" stroke-linejoin="round"/>
<line x1="493.1" x2="493.1" y1="294.8" y2="313.8" stroke="#087a38" stroke-width="0.4" stroke-dasharray="0.8 1.2"/>
<line x1="474.1" x2="512.1" y1="294.8" y2="294.8" stroke="#087a38" stroke-width="0.4" stroke-dasharray="0.8 1.2"/>
<line x1="493.10" x2="493.10" y1="294.80" y2="275.76" stroke="#222" stroke-width="0.5"/>
<line x1="493.10" y1="294.80" x2="484.78" y2="277.68" stroke="#e8981e" stroke-width="0.9"/>
<circle cx="493.10" cy="294.80" r="19.04" fill="none" stroke="#1a1a1a" stroke-width="0.7"/>
<text x="493.2" y="269.6" transform="rotate(0.05 493.2 269.6)" font-size="6.45" fill="#303030" stroke="#303030" stroke-width="0.15" text-anchor="middle">48.8 (cm/s)<tspan dy="-2.3" font-size="4.6">2</tspan></text>
<text x="432.8" y="287.8" transform="rotate(0.05 432.8 287.8)" font-size="6.3" fill="#2455a4" stroke="#2455a4" stroke-width="0.15"><tspan font-weight="bold">B</tspan>: 95.4%</text>
<text x="432.8" y="296.9" transform="rotate(0.05 432.8 296.9)" font-size="6.3" fill="#1a1a1a" stroke="#1a1a1a" stroke-width="0.15"><tspan font-weight="bold">A</tspan>:   <tspan font-weight="bold">--</tspan></text>
<text x="432.8" y="306.0" transform="rotate(0.05 432.8 306.0)" font-size="6.3" fill="#ed1c24" stroke="#ed1c24" stroke-width="0.15"><tspan font-weight="bold">C</tspan>: 92.8%</text>
<circle cx="357.80" cy="376.80" r="27.74" fill="#0fa44e"/>
<path d="M357.80,376.80 L330.08,377.69 A27.74,27.74 0 0 1 353.24,349.44 Z" fill="#ffea10" stroke="#222" stroke-width="0.35" stroke-linejoin="round"/>
<path d="M357.80,376.80 L353.24,349.44 A27.74,27.74 0 0 1 357.80,349.06 Z" fill="#ea3338" stroke="#222" stroke-width="0.35" stroke-linejoin="round"/>
<line x1="357.8" x2="357.8" y1="376.8" y2="404.5" stroke="#087a38" stroke-width="0.4" stroke-dasharray="0.8 1.2"/>
<line x1="330.1" x2="385.5" y1="376.8" y2="376.8" stroke="#087a38" stroke-width="0.4" stroke-dasharray="0.8 1.2"/>
<line x1="357.80" x2="357.80" y1="376.80" y2="349.06" stroke="#222" stroke-width="0.5"/>
<line x1="357.80" y1="376.80" x2="330.08" y2="377.69" stroke="#e8981e" stroke-width="0.9"/>
<line x1="357.80" y1="376.80" x2="336.10" y2="394.07" stroke="#1a1a1a" stroke-width="0.9"/>
<line x1="357.80" y1="376.80" x2="330.94" y2="383.70" stroke="#22d3ea" stroke-width="1.0"/>
<circle cx="357.80" cy="376.80" r="27.74" fill="none" stroke="#1a1a1a" stroke-width="0.7"/>
<text x="357.9" y="344.8" transform="rotate(0.05 357.9 344.8)" font-size="6.45" fill="#303030" stroke="#303030" stroke-width="0.15" text-anchor="middle">103.6 (cm/s)<tspan dy="-2.3" font-size="4.6">2</tspan></text>
<text x="297.4" y="369.8" transform="rotate(0.05 297.4 369.8)" font-size="6.3" fill="#ed1c24" stroke="#ed1c24" stroke-width="0.15"><tspan font-weight="bold">C</tspan>: 74.5%</text>
<text x="297.4" y="378.9" transform="rotate(0.05 297.4 378.9)" font-size="6.3" fill="#1a1a1a" stroke="#1a1a1a" stroke-width="0.15"><tspan font-weight="bold">A</tspan>: 64.3%</text>
<text x="297.4" y="388.0" transform="rotate(0.05 297.4 388.0)" font-size="6.3" fill="#2455a4" stroke="#2455a4" stroke-width="0.15"><tspan font-weight="bold">B</tspan>: 71.0%</text>
<circle cx="493.10" cy="376.80" r="28.76" fill="#0fa44e"/>
<path d="M493.10,376.80 L470.88,358.54 A28.76,28.76 0 0 1 488.96,348.34 Z" fill="#ffea10" stroke="#222" stroke-width="0.35" stroke-linejoin="round"/>
<path d="M493.10,376.80 L488.96,348.34 A28.76,28.76 0 0 1 493.10,348.04 Z" fill="#ea3338" stroke="#222" stroke-width="0.35" stroke-linejoin="round"/>
<line x1="493.1" x2="493.1" y1="376.8" y2="405.6" stroke="#087a38" stroke-width="0.4" stroke-dasharray="0.8 1.2"/>
<line x1="464.3" x2="521.9" y1="376.8" y2="376.8" stroke="#087a38" stroke-width="0.4" stroke-dasharray="0.8 1.2"/>
<line x1="493.10" x2="493.10" y1="376.80" y2="348.04" stroke="#222" stroke-width="0.5"/>
<line x1="493.10" y1="376.80" x2="465.53" y2="368.60" stroke="#1a1a1a" stroke-width="0.9"/>
<line x1="493.10" y1="376.80" x2="467.23" y2="364.23" stroke="#22d3ea" stroke-width="1.0"/>
<circle cx="493.10" cy="376.80" r="28.76" fill="none" stroke="#1a1a1a" stroke-width="0.7"/>
<text x="493.2" y="344.8" transform="rotate(0.05 493.2 344.8)" font-size="6.45" fill="#303030" stroke="#303030" stroke-width="0.15" text-anchor="middle">111.4 (cm/s)<tspan dy="-2.3" font-size="4.6">2</tspan></text>
<text x="432.8" y="369.8" transform="rotate(0.05 432.8 369.8)" font-size="6.3" fill="#ed1c24" stroke="#ed1c24" stroke-width="0.15"><tspan font-weight="bold">C</tspan>: 86.0%</text>
<text x="432.8" y="378.9" transform="rotate(0.05 432.8 378.9)" font-size="6.3" fill="#1a1a1a" stroke="#1a1a1a" stroke-width="0.15"><tspan font-weight="bold">A</tspan>: 79.6%</text>
<text x="432.8" y="388.0" transform="rotate(0.05 432.8 388.0)" font-size="6.3" fill="#2455a4" stroke="#2455a4" stroke-width="0.15"><tspan font-weight="bold">B</tspan>: 82.2%</text>
<circle cx="357.80" cy="444.40" r="22.91" fill="#0fa44e"/>
<path d="M357.80,444.40 L345.56,425.03 A22.91,22.91 0 0 1 356.43,421.53 Z" fill="#ffea10" stroke="#222" stroke-width="0.35" stroke-linejoin="round"/>
<path d="M357.80,444.40 L356.43,421.53 A22.91,22.91 0 0 1 357.80,421.49 Z" fill="#ea3338" stroke="#222" stroke-width="0.35" stroke-linejoin="round"/>
<line x1="357.8" x2="357.8" y1="444.4" y2="467.3" stroke="#087a38" stroke-width="0.4" stroke-dasharray="0.8 1.2"/>
<line x1="334.9" x2="380.7" y1="444.4" y2="444.4" stroke="#087a38" stroke-width="0.4" stroke-dasharray="0.8 1.2"/>
<line x1="357.80" x2="357.80" y1="444.40" y2="421.49" stroke="#222" stroke-width="0.5"/>
<line x1="357.80" y1="444.40" x2="339.61" y2="430.47" stroke="#1a1a1a" stroke-width="0.9"/>
<line x1="357.80" y1="444.40" x2="343.64" y2="426.38" stroke="#22d3ea" stroke-width="1.0"/>
<circle cx="357.80" cy="444.40" r="22.91" fill="none" stroke="#1a1a1a" stroke-width="0.7"/>
<text x="357.9" y="419.4" transform="rotate(0.05 357.9 419.4)" font-size="6.45" fill="#303030" stroke="#303030" stroke-width="0.15" text-anchor="middle">70.7 (cm/s)<tspan dy="-2.3" font-size="4.6">2</tspan></text>
<text x="297.4" y="437.4" transform="rotate(0.05 297.4 437.4)" font-size="6.3" fill="#ed1c24" stroke="#ed1c24" stroke-width="0.15"><tspan font-weight="bold">C</tspan>: 91.0%</text>
<text x="297.4" y="446.5" transform="rotate(0.05 297.4 446.5)" font-size="6.3" fill="#1a1a1a" stroke="#1a1a1a" stroke-width="0.15"><tspan font-weight="bold">A</tspan>: 85.4%</text>
<text x="297.4" y="455.6" transform="rotate(0.05 297.4 455.6)" font-size="6.3" fill="#2455a4" stroke="#2455a4" stroke-width="0.15"><tspan font-weight="bold">B</tspan>: 89.4%</text>
<circle cx="493.10" cy="444.40" r="19.46" fill="#0fa44e"/>
<path d="M493.10,444.40 L486.03,426.27 A19.46,19.46 0 0 1 492.23,424.96 Z" fill="#ffea10" stroke="#222" stroke-width="0.35" stroke-linejoin="round"/>
<path d="M493.10,444.40 L492.23,424.96 A19.46,19.46 0 0 1 493.10,424.94 Z" fill="#ea3338" stroke="#222" stroke-width="0.35" stroke-linejoin="round"/>
<line x1="493.1" x2="493.1" y1="444.4" y2="463.9" stroke="#087a38" stroke-width="0.4" stroke-dasharray="0.8 1.2"/>
<line x1="473.6" x2="512.6" y1="444.4" y2="444.4" stroke="#087a38" stroke-width="0.4" stroke-dasharray="0.8 1.2"/>
<line x1="493.10" x2="493.10" y1="444.40" y2="424.94" stroke="#222" stroke-width="0.5"/>
<line x1="493.10" y1="444.40" x2="484.70" y2="426.84" stroke="#22d3ea" stroke-width="1.0"/>
<circle cx="493.10" cy="444.40" r="19.46" fill="none" stroke="#1a1a1a" stroke-width="0.7"/>
<text x="493.2" y="419.4" transform="rotate(0.05 493.2 419.4)" font-size="6.45" fill="#303030" stroke="#303030" stroke-width="0.15" text-anchor="middle">51.0 (cm/s)<tspan dy="-2.3" font-size="4.6">2</tspan></text>
<text x="432.8" y="437.4" transform="rotate(0.05 432.8 437.4)" font-size="6.3" fill="#ed1c24" stroke="#ed1c24" stroke-width="0.15"><tspan font-weight="bold">C</tspan>: 94.1%</text>
<text x="432.8" y="446.5" transform="rotate(0.05 432.8 446.5)" font-size="6.3" fill="#1a1a1a" stroke="#1a1a1a" stroke-width="0.15"><tspan font-weight="bold">A</tspan>:   <tspan font-weight="bold">--</tspan></text>
<text x="432.8" y="455.6" transform="rotate(0.05 432.8 455.6)" font-size="6.3" fill="#2455a4" stroke="#2455a4" stroke-width="0.15"><tspan font-weight="bold">B</tspan>: 92.9%</text>
<text x="414.0" y="68.1" font-size="6.2" fill="#303030" text-anchor="middle" font-weight="normal"  stroke="#303030" stroke-width="0.18" transform="rotate(0.05 414.0 68.1)">Upper</text>
<text x="414.0" y="135.6" font-size="6.2" fill="#303030" text-anchor="middle" font-weight="normal"  stroke="#303030" stroke-width="0.18" transform="rotate(0.05 414.0 135.6)">Lower</text>
<text x="414.0" y="225.8" font-size="6.2" fill="#303030" text-anchor="middle" font-weight="normal"  stroke="#303030" stroke-width="0.18" transform="rotate(0.05 414.0 225.8)">Upper</text>
<text x="414.0" y="293.6" font-size="6.2" fill="#303030" text-anchor="middle" font-weight="normal"  stroke="#303030" stroke-width="0.18" transform="rotate(0.05 414.0 293.6)">Lower</text>
<text x="414.0" y="375.6" font-size="6.2" fill="#303030" text-anchor="middle" font-weight="normal"  stroke="#303030" stroke-width="0.18" transform="rotate(0.05 414.0 375.6)">Upper</text>
<text x="414.0" y="443.2" font-size="6.2" fill="#303030" text-anchor="middle" font-weight="normal"  stroke="#303030" stroke-width="0.18" transform="rotate(0.05 414.0 443.2)">Lower</text>
<text x="425.0" y="34.5" font-size="6.95" fill="#1a1a1a" text-anchor="middle" font-weight="bold"  stroke="#1a1a1a" stroke-width="0.18" transform="rotate(0.05 425.0 34.5)">Deployment A</text>
<text x="425.0" y="42.1" font-size="6.95" fill="#1a1a1a" text-anchor="middle" font-weight="bold"  stroke="#1a1a1a" stroke-width="0.18" transform="rotate(0.05 425.0 42.1)">(2013-2014)</text>
<text x="425.0" y="191.2" font-size="6.95" fill="#2455a4" text-anchor="middle" font-weight="bold"  stroke="#2455a4" stroke-width="0.18" transform="rotate(0.05 425.0 191.2)">Deployment B</text>
<text x="425.0" y="198.8" font-size="6.95" fill="#2455a4" text-anchor="middle" font-weight="bold"  stroke="#2455a4" stroke-width="0.18" transform="rotate(0.05 425.0 198.8)">(2014-2015)</text>
<text x="425.0" y="340.0" font-size="6.95" fill="#ed1c24" text-anchor="middle" font-weight="bold"  stroke="#ed1c24" stroke-width="0.18" transform="rotate(0.05 425.0 340.0)">Deployment C</text>
<text x="425.0" y="347.6" font-size="6.95" fill="#ed1c24" text-anchor="middle" font-weight="bold"  stroke="#ed1c24" stroke-width="0.18" transform="rotate(0.05 425.0 347.6)">(2015-2016)</text>
<rect x="454" y="97.6" width="75.5" height="82.6" fill="#fcf8df" stroke="#9a9a9a" stroke-width="0.5"/>
<rect x="464.4" y="108.3" width="55.9" height="20.6" fill="#e3f1fa" stroke="#c2c2c2" stroke-width="0.5"/>
<rect x="467" y="110.1" width="14" height="4.2" fill="#0fa44e"/>
<text x="484.0" y="114.2" font-size="5.9" fill="#303030" text-anchor="start" font-weight="normal"  stroke="#303030" stroke-width="0.18" transform="rotate(0.05 484.0 114.2)">Explained</text>
<rect x="467" y="116.1" width="14" height="4.2" fill="#fcb82e"/>
<text x="484.0" y="119.9" font-size="5.9" fill="#303030" text-anchor="start" font-weight="normal"  stroke="#303030" stroke-width="0.18" transform="rotate(0.05 484.0 119.9)">Incoherent</text>
<rect x="467" y="122.1" width="14" height="4.2" fill="#e3262a"/>
<text x="484.0" y="125.6" font-size="5.9" fill="#303030" text-anchor="start" font-weight="normal"  stroke="#303030" stroke-width="0.18" transform="rotate(0.05 484.0 125.6)">Background</text>
<text x="478.2" y="137.0" font-size="6" fill="#1a1a1a" text-anchor="middle" font-weight="bold"  stroke="#1a1a1a" stroke-width="0.18" transform="rotate(0.05 478.2 137.0)">A</text>
<line x1="485" x2="509.8" y1="134.8" y2="134.8" stroke="#333" stroke-width="0.8"/>
<text x="478.2" y="143.4" font-size="6" fill="#2455a4" text-anchor="middle" font-weight="bold"  stroke="#2455a4" stroke-width="0.18" transform="rotate(0.05 478.2 143.4)">B</text>
<line x1="485" x2="509.8" y1="141.2" y2="141.2" stroke="#45c8f0" stroke-width="0.8"/>
<text x="478.2" y="149.8" font-size="6" fill="#f15a24" text-anchor="middle" font-weight="bold"  stroke="#f15a24" stroke-width="0.18" transform="rotate(0.05 478.2 149.8)">C</text>
<line x1="485" x2="509.8" y1="147.6" y2="147.6" stroke="#f7941d" stroke-width="0.8"/>
<text x="493.2" y="164.4" transform="rotate(0.05 493.2 164.4)" font-size="6.3" fill="#303030" stroke="#303030" stroke-width="0.15" text-anchor="middle">100 (cm/s)<tspan dy="-2.2" font-size="4.5">2</tspan></text>
<path d="M465.3,163.8 V171.7 M519.5,163.8 V171.7 M465.3,167.9 H519.5" stroke="#555" stroke-width="0.8" fill="none"/>
</svg>
</body></html>
